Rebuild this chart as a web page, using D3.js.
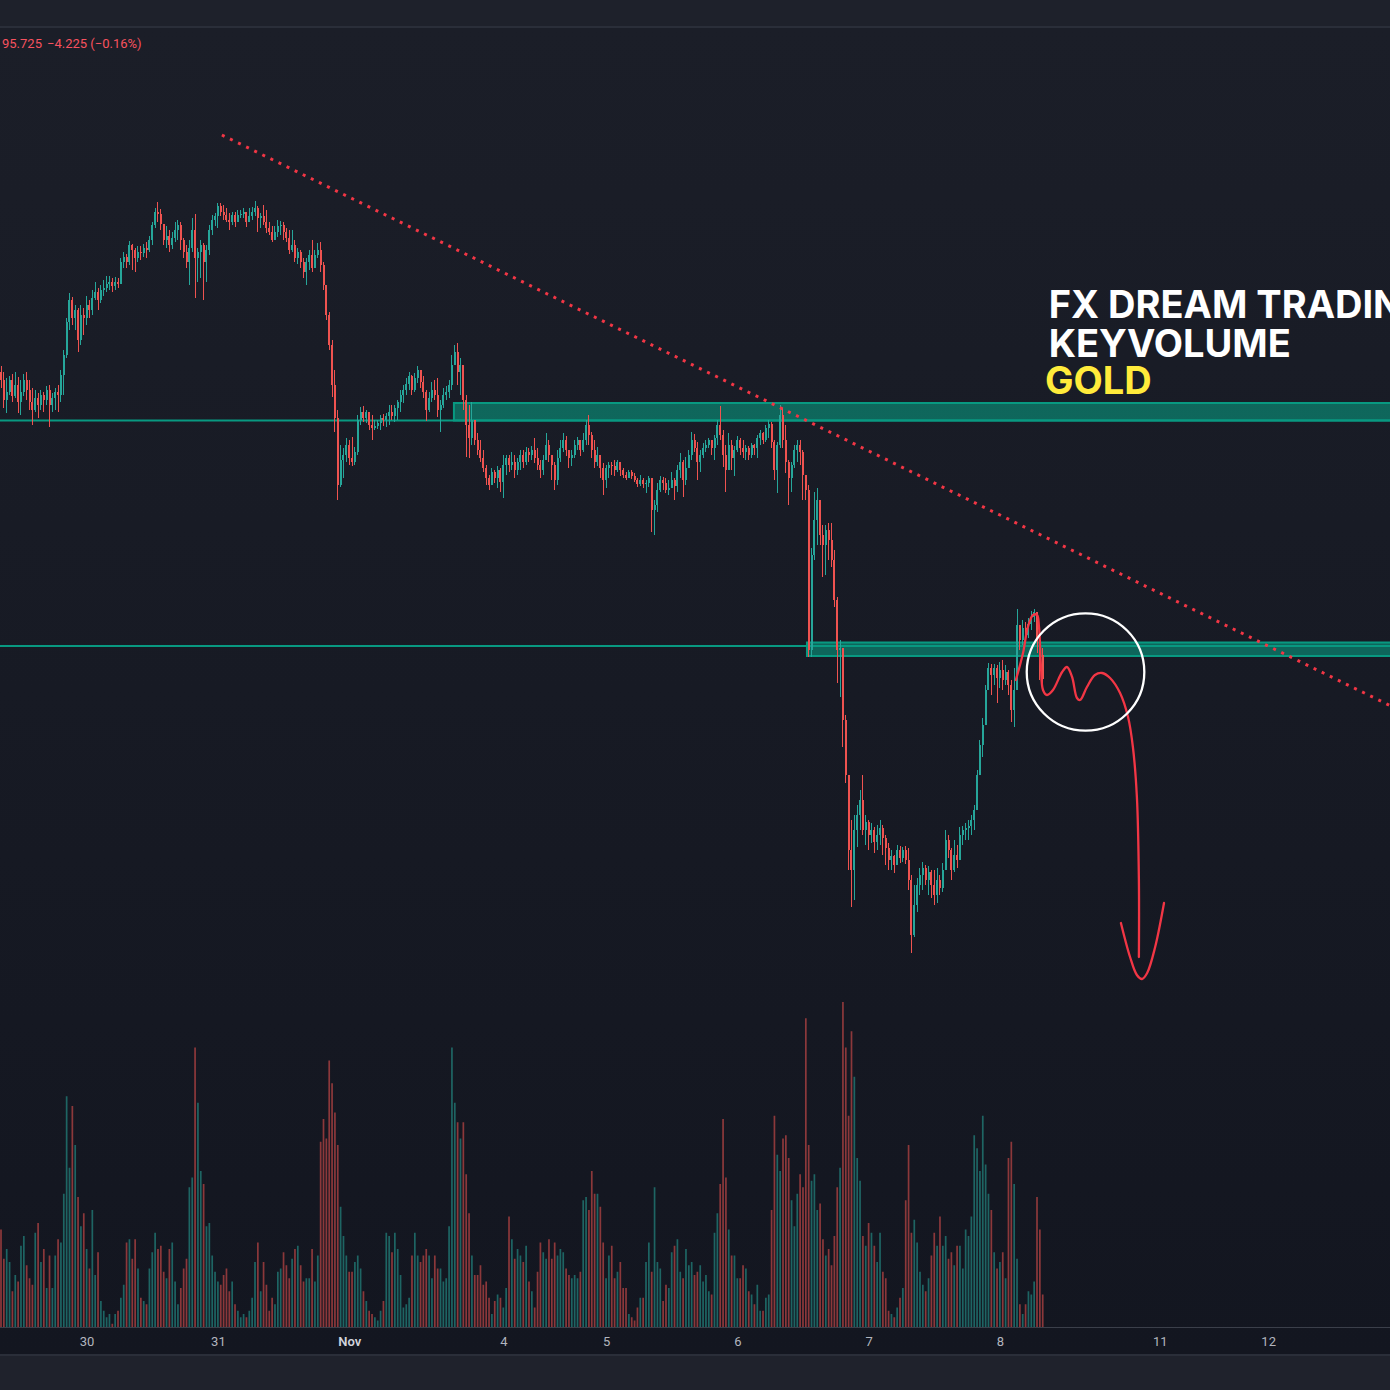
<!DOCTYPE html>
<html>
<head>
<meta charset="utf-8">
<script src="https://cdn.jsdelivr.net/npm/d3@7"></script>
<style>
  html, body { margin: 0; padding: 0; background: #131722; }
  svg { display: block; }
</style>
</head>
<body>
<div id="chart"></div>
<script>
const W = 1390, H = 1390;

// XAUUSD 30m bars, open of the first bar then close / high / low per bar
const firstOpen = 2757.0;
const closes = [
  2755.4, 2751.4, 2753.0, 2755.4, 2752.2, 2754.4, 2751.0, 2753.0, 2755.4, 2753.4,
  2751.0, 2749.4, 2751.8, 2750.4, 2752.4, 2751.4, 2753.4, 2750.4, 2751.8, 2753.0,
  2752.4, 2756.4, 2760.4, 2767.0, 2771.4, 2767.8, 2769.4, 2763.4, 2768.4, 2767.8,
  2770.4, 2769.4, 2771.8, 2773.0, 2771.4, 2773.4, 2773.8, 2774.6, 2775.0, 2774.2,
  2775.0, 2774.6, 2779.0, 2780.0, 2779.0, 2782.4, 2781.4, 2779.8, 2781.0, 2780.8,
  2781.8, 2781.4, 2783.4, 2786.4, 2789.0, 2788.6, 2786.6, 2783.4, 2784.2, 2782.4,
  2783.8, 2785.4, 2786.4, 2783.4, 2781.0, 2779.0, 2781.8, 2785.4, 2779.8, 2781.0,
  2782.4, 2779.0, 2781.4, 2785.4, 2787.4, 2788.2, 2790.2, 2789.0, 2788.4, 2787.4,
  2787.0, 2788.4, 2787.0, 2788.4, 2788.6, 2789.0, 2787.0, 2788.2, 2789.0, 2789.8,
  2787.8, 2788.2, 2787.0, 2785.8, 2785.0, 2783.4, 2785.0, 2786.2, 2786.4, 2785.0,
  2783.8, 2781.4, 2782.4, 2779.8, 2781.0, 2779.0, 2777.0, 2779.0, 2780.4, 2777.8,
  2780.4, 2781.4, 2778.4, 2774.4, 2768.4, 2762.4, 2754.4, 2747.8, 2734.4, 2739.4,
  2740.4, 2742.4, 2739.8, 2739.0, 2741.0, 2747.4, 2749.0, 2747.8, 2749.0, 2746.4,
  2745.8, 2746.2, 2746.8, 2747.8, 2747.4, 2748.2, 2749.0, 2748.2, 2749.8, 2751.0,
  2752.4, 2753.4, 2754.6, 2756.2, 2753.4, 2755.8, 2757.4, 2755.0, 2753.0, 2749.4,
  2751.8, 2753.4, 2752.4, 2749.4, 2750.4, 2752.4, 2753.0, 2754.4, 2758.4, 2761.0,
  2757.0, 2758.4, 2751.4, 2746.4, 2743.8, 2747.4, 2743.4, 2741.4, 2739.8, 2737.8,
  2735.8, 2734.4, 2737.0, 2735.8, 2737.4, 2735.0, 2738.4, 2739.8, 2738.4, 2739.0,
  2737.4, 2739.0, 2740.4, 2739.0, 2741.0, 2740.4, 2741.4, 2739.8, 2738.4, 2737.4,
  2739.4, 2742.4, 2740.4, 2738.4, 2735.4, 2739.8, 2741.8, 2743.4, 2741.4, 2739.8,
  2740.4, 2742.4, 2743.4, 2741.4, 2743.4, 2746.4, 2744.4, 2741.4, 2739.0, 2740.4,
  2737.8, 2735.4, 2737.8, 2738.4, 2738.2, 2737.4, 2739.0, 2737.4, 2736.4, 2735.8,
  2737.0, 2736.2, 2735.4, 2734.6, 2735.4, 2734.6, 2734.8, 2735.8, 2729.4, 2730.4,
  2733.4, 2735.4, 2734.8, 2733.4, 2733.8, 2735.4, 2734.2, 2737.4, 2739.0, 2735.4,
  2737.8, 2740.4, 2743.4, 2741.8, 2739.0, 2740.4, 2741.8, 2742.4, 2743.4, 2741.8,
  2743.8, 2746.4, 2744.4, 2740.4, 2737.4, 2742.4, 2739.8, 2741.4, 2743.4, 2741.8,
  2741.0, 2741.8, 2740.4, 2742.4, 2741.8, 2743.8, 2744.8, 2743.4, 2745.8, 2746.6,
  2743.0, 2737.4, 2742.4, 2748.4, 2743.4, 2739.0, 2735.8, 2738.4, 2741.4, 2742.4,
  2741.0, 2736.4, 2733.4, 2701.4, 2720.4, 2727.4, 2731.4, 2724.4, 2722.4, 2725.4,
  2723.4, 2719.4, 2711.4, 2701.4, 2701.8, 2687.4, 2676.4, 2661.4, 2657.4, 2665.4,
  2668.4, 2671.4, 2665.4, 2667.0, 2664.4, 2665.4, 2663.0, 2664.4, 2665.8, 2663.8,
  2661.8, 2659.4, 2660.2, 2658.4, 2661.4, 2659.8, 2661.4, 2659.4, 2655.4, 2644.4,
  2650.4, 2654.4, 2656.4, 2657.8, 2655.4, 2657.0, 2654.4, 2652.4, 2655.4, 2653.8,
  2657.4, 2663.4, 2661.4, 2657.4, 2660.4, 2659.4, 2664.4, 2665.4, 2665.8, 2666.2,
  2667.4, 2669.4, 2676.4, 2682.4, 2686.4, 2693.4, 2697.8, 2696.4, 2697.8, 2695.8,
  2697.4, 2695.4, 2697.0, 2694.4, 2689.4, 2693.4, 2706.4, 2703.4, 2705.8, 2704.4,
  2706.6, 2708.0, 2709.0, 2703.4, 2700.4, 2695.7
];
const highs = [
  2758.2, 2757.0, 2755.8, 2756.2, 2756.6, 2757.0, 2756.0, 2755.4, 2756.6, 2757.0,
  2755.4, 2753.8, 2753.4, 2752.8, 2753.4, 2753.0, 2754.2, 2754.4, 2752.8, 2753.8,
  2754.4, 2757.4, 2761.4, 2767.8, 2772.8, 2772.0, 2770.4, 2769.8, 2770.4, 2769.8,
  2772.2, 2771.4, 2773.4, 2775.0, 2773.8, 2774.4, 2775.4, 2776.2, 2776.2, 2775.8,
  2776.0, 2775.8, 2779.8, 2781.0, 2780.6, 2783.2, 2782.6, 2781.8, 2782.2, 2782.2,
  2782.6, 2783.0, 2784.2, 2787.0, 2789.8, 2791.0, 2789.6, 2785.8, 2786.2, 2785.4,
  2785.0, 2787.0, 2787.4, 2787.0, 2783.8, 2782.4, 2783.4, 2787.8, 2788.6, 2781.8,
  2783.4, 2782.8, 2782.4, 2786.4, 2788.4, 2788.8, 2790.8, 2790.8, 2790.4, 2789.8,
  2788.8, 2789.0, 2789.0, 2789.4, 2789.4, 2789.8, 2789.0, 2789.8, 2790.0, 2791.2,
  2790.2, 2788.8, 2790.4, 2789.4, 2787.0, 2786.2, 2786.2, 2787.4, 2787.2, 2787.0,
  2785.8, 2785.4, 2785.4, 2783.4, 2781.8, 2781.4, 2779.8, 2779.8, 2781.4, 2783.4,
  2781.4, 2782.8, 2783.0, 2779.0, 2774.4, 2769.0, 2763.4, 2757.4, 2749.4, 2742.4,
  2741.8, 2743.8, 2743.4, 2744.0, 2742.0, 2748.4, 2750.0, 2750.2, 2749.4, 2748.8,
  2748.4, 2747.4, 2747.4, 2748.4, 2748.6, 2748.8, 2750.4, 2750.4, 2750.4, 2751.4,
  2753.4, 2754.4, 2755.8, 2757.0, 2756.4, 2756.8, 2758.2, 2757.0, 2756.2, 2753.4,
  2753.0, 2755.0, 2755.4, 2755.8, 2751.4, 2753.8, 2754.2, 2755.4, 2760.4, 2762.4,
  2762.8, 2759.8, 2757.8, 2752.4, 2750.4, 2751.0, 2746.8, 2744.8, 2743.4, 2741.4,
  2738.4, 2736.4, 2737.8, 2737.4, 2738.2, 2737.8, 2740.4, 2740.4, 2740.4, 2741.0,
  2740.4, 2739.8, 2741.4, 2741.4, 2742.0, 2741.8, 2742.2, 2743.8, 2741.8, 2739.4,
  2740.4, 2744.8, 2743.4, 2740.4, 2739.0, 2741.4, 2743.4, 2744.8, 2744.2, 2741.4,
  2741.4, 2743.4, 2744.0, 2743.4, 2744.8, 2747.4, 2748.4, 2745.0, 2743.4, 2742.0,
  2739.4, 2738.8, 2738.4, 2739.0, 2739.0, 2739.4, 2739.4, 2738.4, 2737.8, 2737.0,
  2737.4, 2737.4, 2736.8, 2735.8, 2736.4, 2735.8, 2735.4, 2736.2, 2734.8, 2731.4,
  2734.8, 2736.2, 2736.0, 2735.8, 2735.4, 2737.0, 2735.8, 2738.4, 2740.8, 2739.4,
  2740.0, 2741.4, 2745.0, 2744.6, 2743.0, 2741.4, 2742.8, 2743.4, 2743.8, 2743.4,
  2744.4, 2747.4, 2750.2, 2745.4, 2742.4, 2744.8, 2743.4, 2742.2, 2744.2, 2743.8,
  2743.4, 2742.4, 2742.2, 2742.8, 2742.6, 2744.4, 2745.4, 2745.0, 2746.4, 2747.4,
  2747.0, 2743.4, 2743.0, 2750.4, 2749.8, 2746.4, 2739.4, 2739.0, 2742.4, 2743.4,
  2743.4, 2741.4, 2735.8, 2734.4, 2721.8, 2733.0, 2733.8, 2730.4, 2726.4, 2726.4,
  2726.8, 2726.8, 2721.4, 2712.0, 2703.4, 2701.4, 2688.4, 2676.4, 2667.4, 2668.4,
  2670.4, 2673.4, 2676.4, 2668.4, 2667.4, 2666.8, 2666.0, 2666.4, 2667.4, 2666.4,
  2664.4, 2662.8, 2661.4, 2660.4, 2662.4, 2662.2, 2662.0, 2662.2, 2661.8, 2656.4,
  2654.4, 2655.8, 2657.8, 2659.0, 2658.4, 2658.2, 2657.4, 2657.4, 2657.8, 2656.4,
  2658.8, 2665.4, 2664.4, 2661.8, 2663.4, 2662.4, 2666.0, 2666.2, 2666.8, 2667.4,
  2668.4, 2670.4, 2677.4, 2683.4, 2687.8, 2694.4, 2698.8, 2698.6, 2698.6, 2698.4,
  2699.0, 2699.4, 2698.4, 2697.4, 2695.4, 2697.8, 2709.6, 2705.4, 2707.4, 2707.0,
  2707.8, 2709.2, 2709.6, 2709.0, 2703.4, 2701.8
];
const lows = [
  2753.8, 2749.8, 2748.8, 2752.4, 2751.0, 2751.8, 2748.8, 2748.4, 2752.2, 2751.4,
  2749.4, 2746.4, 2749.0, 2747.8, 2749.4, 2749.0, 2750.4, 2746.0, 2749.0, 2749.4,
  2749.0, 2751.0, 2752.4, 2759.8, 2765.4, 2766.4, 2765.4, 2761.0, 2762.4, 2764.4,
  2766.4, 2767.8, 2768.4, 2771.4, 2769.4, 2770.8, 2772.2, 2773.0, 2773.4, 2773.0,
  2773.4, 2773.8, 2775.0, 2777.8, 2777.8, 2778.4, 2777.4, 2777.0, 2779.0, 2779.4,
  2780.0, 2779.8, 2781.0, 2782.4, 2785.8, 2787.0, 2785.4, 2782.4, 2781.8, 2781.0,
  2781.6, 2783.0, 2783.4, 2781.4, 2779.8, 2777.8, 2774.4, 2781.0, 2771.8, 2775.0,
  2775.8, 2771.4, 2775.0, 2780.4, 2784.4, 2786.2, 2785.8, 2788.2, 2787.4, 2787.0,
  2785.4, 2786.4, 2786.0, 2787.0, 2787.8, 2787.8, 2786.0, 2787.0, 2787.4, 2788.2,
  2785.0, 2785.8, 2786.4, 2784.8, 2784.4, 2783.0, 2784.0, 2784.0, 2784.4, 2783.4,
  2783.0, 2780.6, 2781.0, 2779.0, 2778.6, 2777.8, 2775.8, 2774.4, 2777.4, 2777.0,
  2779.0, 2779.8, 2777.0, 2773.4, 2767.4, 2761.4, 2752.0, 2745.0, 2731.4, 2734.0,
  2735.8, 2739.0, 2738.4, 2738.2, 2738.4, 2740.4, 2746.4, 2747.0, 2746.8, 2745.4,
  2743.4, 2745.4, 2745.6, 2745.4, 2746.2, 2746.0, 2746.4, 2747.4, 2747.0, 2747.4,
  2749.0, 2750.8, 2752.4, 2753.4, 2752.4, 2753.0, 2754.8, 2753.8, 2751.8, 2747.2,
  2749.0, 2751.0, 2751.4, 2748.0, 2745.0, 2749.8, 2751.4, 2751.8, 2753.4, 2758.4,
  2754.4, 2752.4, 2749.4, 2740.0, 2739.8, 2742.4, 2742.4, 2740.4, 2739.0, 2737.0,
  2734.4, 2733.4, 2734.4, 2734.8, 2733.8, 2733.0, 2731.8, 2736.4, 2737.0, 2737.4,
  2735.8, 2736.4, 2737.4, 2737.8, 2738.4, 2739.0, 2739.4, 2738.8, 2737.4, 2735.8,
  2736.4, 2740.4, 2739.0, 2735.4, 2733.4, 2734.4, 2739.0, 2741.0, 2740.2, 2737.8,
  2738.2, 2739.8, 2741.4, 2740.2, 2741.0, 2742.4, 2742.4, 2739.8, 2737.8, 2738.2,
  2735.8, 2732.4, 2733.8, 2735.8, 2736.4, 2736.2, 2737.0, 2736.2, 2735.8, 2735.4,
  2735.8, 2735.6, 2735.0, 2734.0, 2734.2, 2733.8, 2732.8, 2734.0, 2725.0, 2724.4,
  2729.0, 2733.0, 2733.4, 2732.8, 2732.4, 2734.4, 2731.4, 2733.0, 2735.8, 2732.0,
  2734.4, 2738.2, 2739.4, 2741.0, 2735.4, 2737.0, 2739.8, 2741.0, 2741.8, 2740.4,
  2739.4, 2742.4, 2743.4, 2738.0, 2733.0, 2737.4, 2737.4, 2736.2, 2741.0, 2740.4,
  2739.8, 2739.4, 2739.4, 2739.8, 2740.4, 2739.8, 2742.4, 2742.6, 2743.0, 2743.8,
  2741.8, 2735.4, 2732.8, 2741.8, 2741.8, 2736.8, 2730.4, 2733.0, 2737.8, 2739.0,
  2738.4, 2731.4, 2731.4, 2700.0, 2700.0, 2719.4, 2722.4, 2722.4, 2716.0, 2716.4,
  2719.4, 2718.0, 2710.0, 2694.8, 2692.0, 2682.0, 2674.8, 2657.4, 2650.0, 2651.4,
  2662.0, 2665.4, 2664.4, 2662.4, 2661.4, 2662.8, 2660.8, 2661.4, 2662.4, 2660.4,
  2658.4, 2657.4, 2657.4, 2656.8, 2658.4, 2658.8, 2659.0, 2658.6, 2653.4, 2640.8,
  2644.0, 2649.0, 2652.4, 2653.4, 2654.4, 2652.4, 2651.8, 2650.4, 2650.8, 2652.4,
  2653.0, 2658.4, 2659.8, 2655.4, 2657.0, 2657.8, 2660.4, 2662.4, 2663.4, 2663.4,
  2664.4, 2665.4, 2669.4, 2676.4, 2680.0, 2687.0, 2693.4, 2692.4, 2694.4, 2690.8,
  2693.8, 2693.4, 2694.4, 2692.4, 2687.0, 2686.0, 2697.4, 2701.4, 2702.4, 2703.4,
  2703.8, 2705.4, 2707.0, 2700.8, 2695.4, 2694.4
];
const volumes = [
  30, 21, 24, 20, 11, 16, 14, 25, 28, 19,
  15, 13, 29, 32, 20, 24, 12, 22, 12, 22,
  27, 26, 41, 71, 49, 68, 56, 40, 31, 35,
  24, 18, 36, 16, 23, 8, 5, 3, 4, 1,
  4, 5, 9, 13, 26, 27, 21, 27, 18, 9,
  8, 7, 18, 23, 29, 24, 25, 17, 15, 24,
  26, 14, 7, 12, 18, 21, 43, 46, 86, 69,
  48, 44, 31, 32, 22, 17, 14, 13, 16, 18,
  11, 14, 7, 5, 3, 4, 3, 5, 9, 20,
  26, 11, 20, 13, 5, 9, 7, 17, 18, 23,
  19, 15, 21, 24, 25, 19, 14, 15, 15, 24,
  14, 22, 57, 64, 58, 82, 75, 66, 56, 37,
  28, 22, 17, 17, 20, 22, 18, 11, 8, 5,
  4, 3, 2, 5, 8, 29, 28, 23, 29, 24,
  16, 6, 7, 9, 22, 29, 22, 20, 22, 24,
  22, 15, 22, 18, 18, 14, 15, 31, 86, 69,
  63, 58, 63, 47, 35, 22, 16, 16, 19, 13,
  14, 9, 4, 8, 10, 9, 6, 12, 34, 27,
  21, 24, 22, 20, 25, 14, 11, 6, 17, 26,
  23, 21, 27, 21, 26, 22, 24, 23, 18, 16,
  15, 16, 15, 17, 39, 40, 36, 48, 41, 41,
  37, 26, 15, 22, 25, 15, 17, 20, 12, 12,
  4, 3, 2, 6, 9, 9, 20, 26, 17, 43,
  20, 18, 8, 13, 12, 23, 25, 27, 17, 15,
  24, 19, 20, 16, 17, 19, 14, 16, 11, 10,
  29, 35, 44, 64, 46, 30, 22, 22, 15, 15,
  19, 18, 11, 10, 7, 13, 5, 5, 9, 10,
  36, 65, 53, 48, 58, 59, 52, 39, 31, 41,
  47, 43, 95, 56, 45, 47, 36, 38, 27, 22,
  24, 19, 28, 43, 49, 100, 86, 65, 91, 77,
  52, 45, 28, 25, 32, 29, 25, 20, 29, 17,
  15, 5, 4, 3, 6, 9, 12, 39, 56, 29,
  33, 26, 17, 13, 11, 15, 22, 29, 25, 34,
  25, 28, 21, 23, 19, 25, 25, 18, 30, 28,
  34, 59, 55, 48, 65, 50, 41, 36, 23, 18,
  20, 23, 15, 52, 57, 44, 21, 7, 4, 7,
  11, 10, 14, 40, 30, 10
];

// time axis (bar index of each label)
const tickIdx = [30, 76, 122, 176, 212, 258, 304, 350, 406, 444];
const tickLabels = ['30', '31', 'Nov', '4', '5', '6', '7', '8', '11', '12'];

// drawings, in bar index / price
const zones = [
  { from: 158.7, top: 2750.8, bottom: 2747.3 },
  { from: 282.4, top: 2702.9, bottom: 2700.2 }
];
const hLines = [2747.3, 2702.2];
const trendLine = [[77.4, 2804.4], [487, 2690.2]];
const ring = { i: 380.0, price: 2697.0, spanBars: 20.6, spanPrice: 11.74 };
const sketch = [
  [355.6, 2695.4], [358.1, 2700.8], [359.8, 2706.0], [361.6, 2708.4], [363.0, 2708.4],
  [363.7, 2706.0], [364.4, 2698.0], [365.1, 2693.4], [366.5, 2692.4], [368.6, 2693.4],
  [371.8, 2697.0], [373.5, 2698.0], [375.3, 2696.0], [377.0, 2691.8], [378.1, 2691.4],
  [380.5, 2694.0], [383.3, 2696.4], [385.8, 2696.8], [388.6, 2695.8], [392.1, 2692.8],
  [394.9, 2688.0], [396.6, 2682.0], [398.0, 2672.0], [398.7, 2655.4], [398.7, 2640.0]
];
const arrowHead = [
  [392.4, 2646.8], [395.6, 2640.0], [398.0, 2636.4], [399.8, 2635.6],
  [401.6, 2636.8], [404.4, 2642.0], [407.5, 2650.8]
];
const titleLines = [
  { text: 'FX DREAM TRADING', i: 367.1, price: 2767.8, color: '#ffffff' },
  { text: 'KEYVOLUME', i: 367.1, price: 2760.0, color: '#ffffff' },
  { text: 'GOLD', i: 365.8, price: 2752.6, color: '#ffeb3b' }
];

const UP = '#26a69a', DOWN = '#ef5350';
const paneTop = 28, paneBottom = 1327;

const svg = d3.select('#chart').append('svg')
  .attr('width', W).attr('height', H);

// backgrounds
const defs = svg.append('defs');
const grad = defs.append('linearGradient').attr('id', 'bg')
  .attr('x1', 0).attr('y1', 0).attr('x2', 0).attr('y2', 1);
grad.append('stop').attr('offset', '0%').attr('stop-color', '#1b1e28');
grad.append('stop').attr('offset', '100%').attr('stop-color', '#131620');
defs.append('clipPath').attr('id', 'pane').append('rect')
  .attr('x', 0).attr('y', paneTop).attr('width', W).attr('height', paneBottom - paneTop);

svg.append('rect').attr('width', W).attr('height', H).attr('fill', '#131620');
svg.append('rect').attr('x', 0).attr('y', paneTop).attr('width', W).attr('height', 1354 - paneTop)
  .attr('fill', 'url(#bg)');
svg.append('rect').attr('width', W).attr('height', 26).attr('fill', '#1e212b');
svg.append('rect').attr('y', 26).attr('width', W).attr('height', 2).attr('fill', '#2a2e39');
svg.append('rect').attr('y', 1354).attr('width', W).attr('height', 2).attr('fill', '#2a2e39');
svg.append('rect').attr('y', 1356).attr('width', W).attr('height', H - 1356).attr('fill', '#1f222c');

// scales
const xScale = d3.scaleLinear().domain([0, 487]).range([1, 1390.9]);
const yScale = d3.scaleLinear().domain([2640, 2810]).range([957, 107]);
const vScale = d3.scaleLinear().domain([0, 100]).range([paneBottom, 1002]);

const bars = closes.map((c, i) => {
  const o = i === 0 ? firstOpen : closes[i - 1];
  return { i, o, c, h: highs[i], l: lows[i], v: volumes[i], up: c >= o };
});

const pane = svg.append('g').attr('clip-path', 'url(#pane)');

// volume
pane.append('g').selectAll('rect').data(bars).join('rect')
  .attr('x', d => xScale(d.i) - 0.85)
  .attr('y', d => vScale(d.v))
  .attr('width', 1.7)
  .attr('height', d => paneBottom - vScale(d.v))
  .attr('fill', d => d.up ? 'rgba(38,166,154,0.55)' : 'rgba(239,83,80,0.55)');

// zones and horizontal lines
pane.append('g').selectAll('rect').data(zones).join('rect')
  .attr('x', d => xScale(d.from))
  .attr('y', d => yScale(d.top))
  .attr('width', d => W + 10 - xScale(d.from))
  .attr('height', d => yScale(d.bottom) - yScale(d.top))
  .attr('fill', 'rgba(8,153,129,0.6)')
  .attr('stroke', '#089981')
  .attr('stroke-width', 2);

pane.append('g').selectAll('line').data(hLines).join('line')
  .attr('x1', 0).attr('x2', W)
  .attr('y1', d => yScale(d)).attr('y2', d => yScale(d))
  .attr('stroke', '#089981')
  .attr('stroke-width', 2);

// candles
const candles = pane.append('g').attr('shape-rendering', 'crispEdges');
candles.selectAll('line').data(bars).join('line')
  .attr('x1', d => xScale(d.i)).attr('x2', d => xScale(d.i))
  .attr('y1', d => yScale(Math.max(d.h, d.o, d.c)))
  .attr('y2', d => yScale(Math.min(d.l, d.o, d.c)))
  .attr('stroke', d => d.up ? UP : DOWN)
  .attr('stroke-width', 1);
candles.selectAll('rect').data(bars).join('rect')
  .attr('x', d => xScale(d.i) - 1)
  .attr('y', d => yScale(Math.max(d.o, d.c)))
  .attr('width', 2)
  .attr('height', d => Math.max(1, Math.abs(yScale(d.o) - yScale(d.c))))
  .attr('fill', d => d.up ? UP : DOWN);

// dotted trend line
pane.append('line')
  .attr('x1', xScale(trendLine[0][0])).attr('y1', yScale(trendLine[0][1]))
  .attr('x2', xScale(trendLine[1][0])).attr('y2', yScale(trendLine[1][1]))
  .attr('stroke', '#f23645')
  .attr('stroke-width', 3)
  .attr('stroke-dasharray', '3 6');

// hand drawn projection
const sketchLine = d3.line()
  .x(d => xScale(d[0]))
  .y(d => yScale(d[1]))
  .curve(d3.curveCatmullRom.alpha(0.5));

pane.append('path')
  .attr('d', sketchLine(sketch))
  .attr('fill', 'none')
  .attr('stroke', '#f23645')
  .attr('stroke-width', 2.3)
  .attr('stroke-linecap', 'round');
pane.append('path')
  .attr('d', sketchLine(arrowHead))
  .attr('fill', 'none')
  .attr('stroke', '#f23645')
  .attr('stroke-width', 2.3)
  .attr('stroke-linecap', 'round');

pane.append('ellipse')
  .attr('cx', xScale(ring.i))
  .attr('cy', yScale(ring.price))
  .attr('rx', xScale(ring.i + ring.spanBars) - xScale(ring.i))
  .attr('ry', yScale(ring.price - ring.spanPrice) - yScale(ring.price))
  .attr('fill', 'none')
  .attr('stroke', '#ffffff')
  .attr('stroke-width', 2.3);

// title text
pane.append('g').selectAll('text').data(titleLines).join('text')
  .attr('x', d => xScale(d.i))
  .attr('y', d => yScale(d.price))
  .attr('fill', d => d.color)
  .attr('font-family', 'Inter, "Open Sans", sans-serif')
  .attr('font-weight', 700)
  .attr('font-size', 38)
  .text(d => d.text);

// header values
const header = svg.append('text')
  .attr('y', 47.5)
  .attr('font-family', 'Roboto, "Noto Sans", sans-serif')
  .attr('font-size', 13)
  .attr('fill', '#f7525f');
header.append('tspan').attr('x', 2).text('95.725');
header.append('tspan').attr('x', 47).text('\u22124.225 (\u22120.16%)');

// time axis
svg.append('line')
  .attr('x1', 0).attr('x2', W)
  .attr('y1', paneBottom + 0.5).attr('y2', paneBottom + 0.5)
  .attr('stroke', '#3b3f4a');

const xAxis = d3.axisBottom(xScale)
  .tickValues(tickIdx)
  .tickFormat((d, k) => tickLabels[k])
  .tickSize(0)
  .tickPadding(10);

const axisG = svg.append('g')
  .attr('transform', `translate(0, ${paneBottom})`)
  .call(xAxis);
axisG.select('.domain').remove();
axisG.selectAll('text')
  .attr('font-family', 'Roboto, "Noto Sans", sans-serif')
  .attr('font-size', 13)
  .attr('fill', (d, k) => tickLabels[k] === 'Nov' ? '#d1d4dc' : '#b2b5be')
  .attr('font-weight', (d, k) => tickLabels[k] === 'Nov' ? 600 : 400);
</script>
</body>
</html>
